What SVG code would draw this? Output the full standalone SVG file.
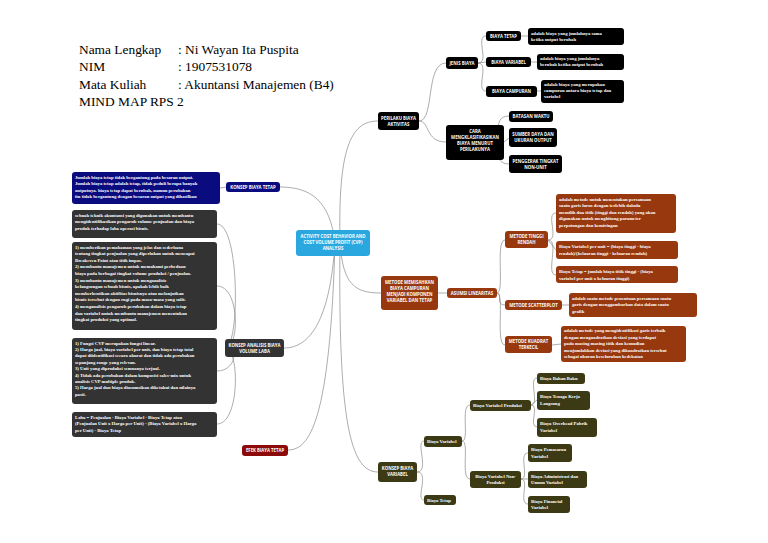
<svg xmlns="http://www.w3.org/2000/svg" width="768" height="543" viewBox="0 0 768 543">
<style>
.h{font-family:"Open Sans","DejaVu Sans",sans-serif;font-weight:bold;font-size:4.3px;fill:#fff;text-anchor:middle}
.d{font-family:"Liberation Serif","DejaVu Serif",serif;font-weight:bold;font-size:4.7px;fill:#fff}
.t{font-family:"Liberation Serif",serif;font-size:13.4px;fill:#000}
.c path{fill:none;stroke:#8a8a8a;stroke-width:0.7}
.k{fill:#000}.o{fill:#97380e}.n{fill:#0b0b80}.g{fill:#333}.v{fill:#3b3a14}.r{fill:#8d0a0a}
</style>
<rect width="768" height="543" fill="#fff"/>
<g id="title" class="t">
<text x="79" y="54">Nama Lengkap</text><text x="178" y="54">: Ni Wayan Ita Puspita</text>
<text x="79" y="71">NIM</text><text x="178" y="71">: 1907531078</text>
<text x="79" y="89">Mata Kuliah</text><text x="178" y="89">: Akuntansi Manajemen (B4)</text>
<text x="79" y="106">MIND MAP RPS 2</text>
</g>
<g class="c" id="connectors">
<path d="M340,243 C338,150 350,121 378,121"/>
<path d="M340,243 C343,285 355,293 381,293"/>
<path d="M340,243 C338,420 350,472 378,472"/>
<path d="M335,243 C330,200 310,187 280,187"/>
<path d="M335,243 C330,320 310,348 284,348"/>
<path d="M335,243 C330,420 310,450 288,450"/>
<path d="M419,121 C435,121 425,63 446,63"/>
<path d="M419,121 C430,121 425,142 446,142"/>
<path d="M478,63 C490,63 475,36 486,36"/>
<path d="M478,63 L486,62"/>
<path d="M478,63 C490,63 475,91 486,91"/>
<path d="M521,36 L528,36"/><path d="M531,62 L537,62"/><path d="M537,91 L541,91"/>
<path d="M490,142 C505,142 490,116 509,116"/>
<path d="M504,142 L509,138"/>
<path d="M490,142 C500,142 492,164 509,164"/>
<path d="M438,293 L447,293"/>
<path d="M497,293 C505,293 495,240 505,240"/>
<path d="M497,293 C503,293 495,305 505,305"/>
<path d="M497,293 C505,293 495,345 505,345"/>
<path d="M548,240 C560,240 545,213 556,213"/>
<path d="M548,240 L556,250"/>
<path d="M548,240 C560,240 545,275 556,275"/>
<path d="M562,305 L569,305"/><path d="M552,345 L561,344"/>
<path d="M417,472 C430,472 415,441 424,441"/>
<path d="M417,472 C430,472 415,500 424,500"/>
<path d="M462,441 C470,441 460,405 470,405"/>
<path d="M462,441 C470,441 460,479 470,479"/>
<path d="M531,405 C540,405 528,378 537,378"/>
<path d="M531,405 L537,400"/>
<path d="M531,405 C540,405 528,427 537,427"/>
<path d="M521,479 C530,479 518,453 528,453"/>
<path d="M521,479 L528,479"/>
<path d="M521,479 C530,479 518,504 528,504"/>
<path d="M220,188 L226,187"/>
<path d="M217,224 C240,224 240,348 225,348"/>
<path d="M217,286 C240,286 240,348 225,348"/>
<path d="M217,371 C235,371 240,348 225,348"/>
<path d="M217,424 C240,424 240,348 225,348"/>
</g>
<g id="center"><rect x="296" y="230" width="74" height="26" rx="3" fill="#2aa7df"/>
<text class="h" x="333" y="237.5">ACTIVITY COST BEHAVIOR AND<tspan x="333" dy="6">COST VOLUME PROFIT (CVP)</tspan><tspan x="333" dy="6">ANALYSIS</tspan></text></g>
<g id="perilaku"><rect class="k" x="378" y="112" width="41" height="18" rx="3"/><text class="h" x="398.5" y="119.5">PERILAKU BIAYA<tspan x="398.5" dy="6">AKTIVITAS</tspan></text></g>
<g id="jenis"><rect class="k" x="446" y="57" width="32" height="12" rx="3"/><text class="h" x="462" y="64.5">JENIS BIAYA</text></g>
<g id="tetap"><rect class="k" x="486" y="31" width="35" height="10" rx="3"/><text class="h" x="503.5" y="37.5">BIAYA TETAP</text>
<rect class="k" x="528" y="28" width="96" height="17" rx="3"/><text class="d" x="531" y="34.5">adalah biaya yang jumlahnya sama<tspan x="531" dy="6">ketika output berubah</tspan></text></g>
<g id="variabel"><rect class="k" x="486" y="57" width="45" height="10" rx="3"/><text class="h" x="508.5" y="63.5">BIAYA VARIABEL</text>
<rect class="k" x="537" y="54" width="87" height="16" rx="3"/><text class="d" x="540" y="60">adalah biaya yang jumlahnya<tspan x="540" dy="6">berubah ketika output berubah</tspan></text></g>
<g id="campuran"><rect class="k" x="486" y="86" width="51" height="11" rx="3"/><text class="h" x="511.5" y="93">BIAYA CAMPURAN</text>
<rect class="k" x="541" y="80" width="83" height="23" rx="3"/><text class="d" x="544" y="86">adalah biaya yang merupakan<tspan x="544" dy="6">campuran antara biaya tetap dan</tspan><tspan x="544" dy="6">variabel</tspan></text></g>
<g id="cara"><rect class="k" x="446" y="125" width="58" height="35" rx="3"/><text class="h" x="475" y="133">CARA<tspan x="475" dy="6">MENGKLASIFIKASIKAN</tspan><tspan x="475" dy="6">BIAYA MENURUT</tspan><tspan x="475" dy="6">PERILAKUNYA</tspan></text></g>
<g id="batasan"><rect class="k" x="509" y="111" width="44" height="11" rx="3"/><text class="h" x="531" y="118">BATASAN WAKTU</text></g>
<g id="sumber"><rect class="k" x="509" y="128" width="48" height="19" rx="3"/><text class="h" x="533" y="136">SUMBER DAYA DAN<tspan x="533" dy="6">UKURAN OUTPUT</tspan></text></g>
<g id="penggerak"><rect class="k" x="509" y="155" width="53" height="18" rx="3"/><text class="h" x="535.5" y="162.5">PENGGERAK TINGKAT<tspan x="535.5" dy="6">NON-UNIT</tspan></text></g>
<g id="metode"><rect class="o" x="381" y="276" width="57" height="34" rx="3"/><text class="h" x="409.5" y="284">METODE MEMISAHKAN<tspan x="409.5" dy="6">BIAYA CAMPURAN</tspan><tspan x="409.5" dy="6">MENJADI KOMPONEN</tspan><tspan x="409.5" dy="6">VARIABEL DAN TETAP</tspan></text></g>
<g id="asumsi"><rect class="o" x="447" y="288" width="50" height="10" rx="3"/><text class="h" x="472" y="294.5">ASUMSI LINEARITAS</text></g>
<g id="tinggi"><rect class="o" x="505" y="231" width="43" height="17" rx="3"/><text class="h" x="526.5" y="238">METODE TINGGI<tspan x="526.5" dy="6">RENDAH</tspan></text>
<rect class="o" x="556" y="194" width="120" height="39" rx="3"/><text class="d" x="559" y="200.5">adalah metode untuk menentukan persamaan<tspan x="559" dy="6.5">suatu garis lurus dengan terlebih dahulu</tspan><tspan x="559" dy="6.5">memilih dua titik (tinggi dan rendah) yang akan</tspan><tspan x="559" dy="6.5">digunakan untuk menghitung parameter</tspan><tspan x="559" dy="6.5">perpotongan dan kemiringan</tspan></text>
<rect class="o" x="556" y="241" width="122" height="18" rx="3"/><text class="d" x="559" y="248">Biaya Variabel per unit = (biaya tinggi - biaya<tspan x="559" dy="6.5">rendah)/(keluaran tinggi - keluaran rendah)</tspan></text>
<rect class="o" x="556" y="266" width="122" height="17" rx="3"/><text class="d" x="559" y="273">Biaya Tetap = jumlah biaya titik tinggi - (biaya<tspan x="559" dy="6.5">variabel per unit x keluaran tinggi)</tspan></text></g>
<g id="scatter"><rect class="o" x="505" y="300" width="57" height="10" rx="3"/><text class="h" x="533.5" y="306.5">METODE SCATTERPLOT</text>
<rect class="o" x="569" y="293" width="128" height="24" rx="3"/><text class="d" x="572" y="299.5">adalah suatu metode penentuan persamaan suatu<tspan x="572" dy="6.5">garis dengan menggambarkan data dalam suatu</tspan><tspan x="572" dy="6.5">grafik</tspan></text></g>
<g id="kuadrat"><rect class="o" x="505" y="336" width="47" height="17" rx="3"/><text class="h" x="528.5" y="343">METODE KUADRAT<tspan x="528.5" dy="6">TERKECIL</tspan></text>
<rect class="o" x="561" y="326" width="125" height="36" rx="3"/><text class="d" x="564" y="332">adalah metode yang mengidentifikasi garis terbaik<tspan x="564" dy="6.5">dengan menguadratkan deviasi yang terdapat</tspan><tspan x="564" dy="6.5">pada masing masing titik dan kemudian</tspan><tspan x="564" dy="6.5">menjumlahkan deviasi yang dikuadratkan tersebut</tspan><tspan x="564" dy="6.5">sebagai ukuran keseluruhan kedekatan</tspan></text></g>
<g id="konsepvar"><rect class="v" x="378" y="462" width="39" height="20" rx="3"/><text class="h" x="397.5" y="470">KONSEP BIAYA<tspan x="397.5" dy="6">VARIABEL</tspan></text></g>
<g id="bv"><rect class="v" x="424" y="436" width="38" height="11" rx="3"/><text class="d" x="427" y="443">Biaya Variabel</text></g>
<g id="bt"><rect class="v" x="424" y="495" width="32" height="10" rx="3"/><text class="d" x="427" y="501.5">Biaya Tetap</text></g>
<g id="bvp"><rect class="v" x="470" y="400" width="61" height="11" rx="3"/><text class="d" x="473" y="407">Biaya Variabel Produksi</text></g>
<g id="bbb"><rect class="v" x="537" y="373" width="48" height="11" rx="3"/><text class="d" x="540" y="380">Biaya Bahan Baku</text></g>
<g id="btk"><rect class="v" x="537" y="391" width="53" height="19" rx="3"/><text class="d" x="540" y="398">Biaya Tenaga Kerja<tspan x="540" dy="6.5">Langsung</tspan></text></g>
<g id="bop"><rect class="v" x="537" y="418" width="60" height="19" rx="3"/><text class="d" x="540" y="425">Biaya Overhead Pabrik<tspan x="540" dy="6.5">Variabel</tspan></text></g>
<g id="bvnp"><rect class="v" x="470" y="471" width="51" height="17" rx="3"/><text class="d" x="495.5" y="477.5" text-anchor="middle">Biaya Variabel Non-<tspan x="495.5" dy="6.5">Produksi</tspan></text></g>
<g id="bpv"><rect class="v" x="528" y="444" width="44" height="18" rx="3"/><text class="d" x="531" y="451">Biaya Pemasaran<tspan x="531" dy="6.5">Variabel</tspan></text></g>
<g id="bau"><rect class="v" x="528" y="471" width="59" height="17" rx="3"/><text class="d" x="531" y="477.5">Biaya Administrasi dan<tspan x="531" dy="6.5">Umum Variabel</tspan></text></g>
<g id="bfv"><rect class="v" x="528" y="496" width="42" height="17" rx="3"/><text class="d" x="531" y="502.5">Biaya Financial<tspan x="531" dy="6.5">Variabel</tspan></text></g>
<g id="konseptetap"><rect class="n" x="226" y="182" width="54" height="10" rx="3"/><text class="h" x="253" y="188.5">KONSEP BIAYA TETAP</text>
<rect class="n" x="72" y="172" width="148" height="32" rx="3"/><text class="d" x="75" y="178.5">Jumlah biaya tetap tidak bergantung pada besaran output.<tspan x="75" dy="6.5">Jumlah biaya tetap adalah tetap, tidak peduli berapa banyak</tspan><tspan x="75" dy="6.5">outputnya. biaya tetap dapat berubah, namun perubahan</tspan><tspan x="75" dy="6.5">itu tidak bergantung dengan besaran output yang dihasilkan</tspan></text></g>
<g id="analisis"><rect class="g" x="225" y="339" width="59" height="18" rx="3"/><text class="h" x="254.5" y="346.5">KONSEP ANALISIS BIAYA<tspan x="254.5" dy="6">VOLUME LABA</tspan></text>
<rect class="g" x="72" y="210" width="145" height="28" rx="3"/><text class="d" x="75" y="216.5">sebuah teknik akuntansi yang digunakan untuk membantu<tspan x="75" dy="6.5">mengidentifikasikan pengaruh volume penjualan dan biaya</tspan><tspan x="75" dy="6.5">produk terhadap laba operasi bisnis.</tspan></text>
<rect class="g" x="72" y="242" width="145" height="88" rx="3"/><text class="d" x="75" y="248.5">1) memberikan pemahaman yang jelas dan sederhana<tspan x="75" dy="6.6">tentang tingkat penjualan yang diperlukan untuk mencapai</tspan><tspan x="75" dy="6.6">Breakeven Point atau titik impas.</tspan><tspan x="75" dy="6.6">2) membantu manajemen untuk memahami perbedaan</tspan><tspan x="75" dy="6.6">biaya pada berbagai tingkat volume produksi / penjualan.</tspan><tspan x="75" dy="6.6">3) membantu manajemen untuk menganalisis</tspan><tspan x="75" dy="6.6">kelangsungan sebuah bisnis, apakah lebih baik</tspan><tspan x="75" dy="6.6">memberhentikan aktifitas bisnisnya atau melanjutkan</tspan><tspan x="75" dy="6.6">bisnis tersebut dengan rugi pada masa-masa yang sulit.</tspan><tspan x="75" dy="6.6">4) menganalisis pengaruh perubahan dalam biaya tetap</tspan><tspan x="75" dy="6.6">dan variabel untuk membantu manajemen menentukan</tspan><tspan x="75" dy="6.6">tingkat produksi yang optimal.</tspan></text>
<rect class="g" x="72" y="338" width="145" height="66" rx="3"/><text class="d" x="75" y="344.5">1) Fungsi CVP merupakan fungsi linear.<tspan x="75" dy="6.4">2) Harga jual, biaya variabel per unit, dan biaya tetap total</tspan><tspan x="75" dy="6.4">dapat diidentifikasi secara akurat dan tidak ada perubahan</tspan><tspan x="75" dy="6.4">sepanjang range yang relevan.</tspan><tspan x="75" dy="6.4">3) Unit yang diproduksi semuanya terjual.</tspan><tspan x="75" dy="6.4">4) Tidak ada perubahan dalam komposisi sales-mix untuk</tspan><tspan x="75" dy="6.4">analisis CVP multiple produk.</tspan><tspan x="75" dy="6.4">5) Harga jual dan biaya diasumsikan diketahui dan nilainya</tspan><tspan x="75" dy="6.4">pasti.</tspan></text>
<rect class="g" x="72" y="412" width="145" height="25" rx="3"/><text class="d" x="75" y="418.5">Laba = Penjualan - Biaya Variabel - Biaya Tetap    atau<tspan x="75" dy="6.6">(Penjualan Unit x Harga per Unit) - (Biaya Variabel x Harga</tspan><tspan x="75" dy="6.6">per Unit) - Biaya Tetap</tspan></text></g>
<g id="efek"><rect class="r" x="242" y="445" width="46" height="11" rx="3"/><text class="h" x="265" y="452">EFEK BIAYA TETAP</text></g>
</svg>
